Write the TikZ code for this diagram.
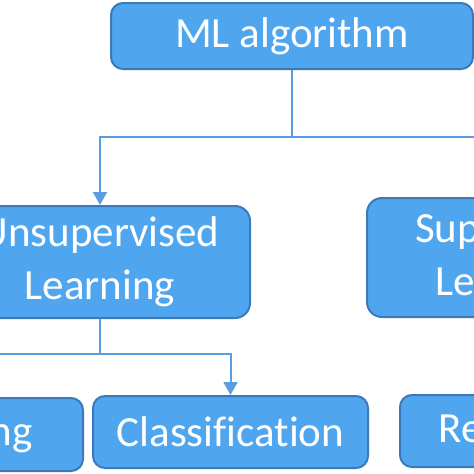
\documentclass[tikz,border=0pt]{standalone}
\usepackage{fontspec}
\setmainfont[Ligatures={NoCommon}]{Carlito}
\usetikzlibrary{arrows.meta}
\definecolor{boxfill}{HTML}{4FA6EE}
\definecolor{boxline}{HTML}{3D78B8}
\definecolor{conncol}{HTML}{5A9EE2}
\begin{document}
\begin{tikzpicture}[x=1pt,y=-1pt,
  box/.style={draw=boxline, line width=2pt, fill=boxfill, rounded corners=12pt,
    text=white, align=center, inner sep=0pt,
    font=\fontsize{43}{53}\selectfont},
  conn/.style={draw=conncol, line width=2pt},
  arr/.style={conn, -{Triangle[width=14pt,length=13pt]}}]
\useasboundingbox (0,0) rectangle (474,474);
\clip (0,0) rectangle (474,474);
\fill[white] (0,0) rectangle (474,474);
\node[box, minimum width=362pt, minimum height=66pt] (ml) at (292,36) {ML algorithm};
\node[box, rounded corners=15pt, minimum width=300pt, minimum height=112pt] (unsup) at (100,262) {\raisebox{-3pt}{Unsupervised}\\\raisebox{-3pt}{Learning}};
\node[box, rounded corners=15pt, minimum width=288pt, minimum height=119pt] (sup) at (511,257.5) {\raisebox{-3pt}{Supervised}\\\raisebox{-3pt}{Learning}};
\node[box, minimum width=276pt, minimum height=73pt] (clus) at (-55,434.5) {Clustering};
\node[box, minimum width=275pt, minimum height=72pt] (clas) at (230.5,432) {Classification};
\node[box, minimum width=266pt, minimum height=72pt] (reg) at (533,431) {Regression};
\coordinate (j1) at (ml.south |- 0,137);
\coordinate (j2) at (unsup.south |- 0,354);
\draw[conn] (ml.south) -- (j1);
\draw[arr] (j1) -| (unsup.north);
\draw[arr] (j1) -| (sup.north);
\draw[conn] (unsup.south) -- (j2);
\draw[arr] (j2) -| (clas.north);
\draw[arr] (j2) -| (clus.north);
\end{tikzpicture}
\end{document}
